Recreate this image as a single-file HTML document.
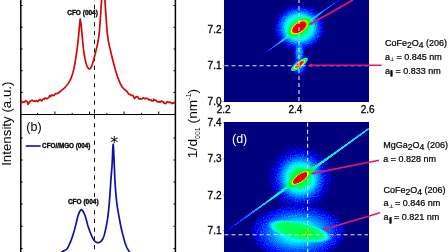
<!DOCTYPE html>
<html><head><meta charset="utf-8"><title>XRD and RSM figure</title>
<style>
html,body{margin:0;padding:0;background:#fff;}
body{width:448px;height:252px;overflow:hidden;}
svg{display:block;}
text{font-family:"Liberation Sans",sans-serif;}
</style></head><body>
<svg width="448" height="252" viewBox="0 0 448 252">
<defs>
<filter id="jet" x="0" y="0" width="1" height="1" color-interpolation-filters="sRGB" filterUnits="objectBoundingBox">
  <feTurbulence type="fractalNoise" baseFrequency="0.85" numOctaves="1" seed="5" result="nz"/>
  <feColorMatrix in="nz" type="matrix" values="1 0 0 0 0  1 0 0 0 0  1 0 0 0 0  0 0 0 0 1" result="ng"/>
  <feGaussianBlur in="SourceGraphic" stdDeviation="0.5" result="sg"/>
  <feComponentTransfer in="sg" result="w">
    <feFuncR type="table" tableValues="0.000 0.133 0.267 0.400 0.533 0.667 0.800 0.933 1.000 1.000 1.000 1.000 1.000 1.000 1.000 1.000 1.000 1.000 0.950 0.850 0.750 0.650 0.550 0.470 0.410 0.350 0.290 0.230 0.180 0.140 0.100 0.060 0.020 0.000 0.000 0.000 0.000 0.000 0.000 0.000 0.000 0.000 0.000 0.000 0.000 0.000 0.000 0.000 0.000 0.000 0.000"/><feFuncG type="table" tableValues="0.000 0.133 0.267 0.400 0.533 0.667 0.800 0.933 1.000 1.000 1.000 1.000 1.000 1.000 1.000 1.000 1.000 1.000 0.950 0.850 0.750 0.650 0.550 0.470 0.410 0.350 0.290 0.230 0.180 0.140 0.100 0.060 0.020 0.000 0.000 0.000 0.000 0.000 0.000 0.000 0.000 0.000 0.000 0.000 0.000 0.000 0.000 0.000 0.000 0.000 0.000"/><feFuncB type="table" tableValues="0.000 0.133 0.267 0.400 0.533 0.667 0.800 0.933 1.000 1.000 1.000 1.000 1.000 1.000 1.000 1.000 1.000 1.000 0.950 0.850 0.750 0.650 0.550 0.470 0.410 0.350 0.290 0.230 0.180 0.140 0.100 0.060 0.020 0.000 0.000 0.000 0.000 0.000 0.000 0.000 0.000 0.000 0.000 0.000 0.000 0.000 0.000 0.000 0.000 0.000 0.000"/>
  </feComponentTransfer>
  <feComponentTransfer in="sg" result="u">
    <feFuncR type="table" tableValues="0.000 0.000 0.000 0.000 0.000 0.000 0.000 0.000 0.010 0.030 0.050 0.070 0.090 0.110 0.130 0.150 0.170 0.190 0.217 0.253 0.288 0.322 0.357 0.390 0.418 0.448 0.477 0.506 0.533 0.559 0.585 0.611 0.637 0.660 0.680 0.700 0.720 0.740 0.760 0.780 0.800 0.820 0.840 0.860 0.880 0.900 0.920 0.940 0.960 0.980 1.000"/><feFuncG type="table" tableValues="0.000 0.000 0.000 0.000 0.000 0.000 0.000 0.000 0.010 0.030 0.050 0.070 0.090 0.110 0.130 0.150 0.170 0.190 0.217 0.253 0.288 0.322 0.357 0.390 0.418 0.448 0.477 0.506 0.533 0.559 0.585 0.611 0.637 0.660 0.680 0.700 0.720 0.740 0.760 0.780 0.800 0.820 0.840 0.860 0.880 0.900 0.920 0.940 0.960 0.980 1.000"/><feFuncB type="table" tableValues="0.000 0.000 0.000 0.000 0.000 0.000 0.000 0.000 0.010 0.030 0.050 0.070 0.090 0.110 0.130 0.150 0.170 0.190 0.217 0.253 0.288 0.322 0.357 0.390 0.418 0.448 0.477 0.506 0.533 0.559 0.585 0.611 0.637 0.660 0.680 0.700 0.720 0.740 0.760 0.780 0.800 0.820 0.840 0.860 0.880 0.900 0.920 0.940 0.960 0.980 1.000"/>
  </feComponentTransfer>
  <feComposite in="w" in2="ng" operator="arithmetic" k1="0.3" k2="0" k3="0" k4="0" result="a"/>
  <feComposite in="u" in2="a" operator="arithmetic" k1="0" k2="1" k3="1" k4="0" result="v"/>
  <feComponentTransfer in="v">
    <feFuncR type="table" tableValues="0.000 0.000 0.000 0.000 0.000 0.000 0.000 0.000 0.000 0.000 0.000 0.000 0.000 0.000 0.000 0.000 0.000 0.000 0.000 0.000 0.000 0.000 0.000 0.000 0.000 0.000 0.000 0.000 0.000 0.000 0.000 0.000 0.000 0.114 0.343 0.571 0.800 1.000 1.000 1.000 1.000 1.000 1.000 1.000 1.000 1.000 0.996 0.984 0.973 0.961 0.950"/>
    <feFuncG type="table" tableValues="0.000 0.000 0.000 0.000 0.000 0.000 0.000 0.000 0.000 0.000 0.000 0.000 0.000 0.000 0.000 0.000 0.000 0.000 0.000 0.000 0.071 0.186 0.300 0.414 0.529 0.643 0.757 0.871 0.986 1.000 1.000 1.000 1.000 1.000 1.000 1.000 1.000 0.986 0.871 0.757 0.643 0.529 0.414 0.300 0.186 0.071 0.000 0.000 0.000 0.000 0.000"/>
    <feFuncB type="table" tableValues="0.500 0.500 0.500 0.500 0.500 0.500 0.500 0.500 0.500 0.500 0.500 0.500 0.500 0.500 0.500 0.500 0.614 0.729 0.843 0.957 1.000 1.000 1.000 1.000 1.000 1.000 1.000 1.000 1.000 0.800 0.571 0.343 0.114 0.000 0.000 0.000 0.000 0.000 0.000 0.000 0.000 0.000 0.000 0.000 0.000 0.000 0.000 0.000 0.000 0.000 0.000"/>
    <feFuncA type="linear" slope="0" intercept="1"/>
  </feComponentTransfer>
</filter>
<radialGradient id="c1h"><stop offset="0.0" stop-color="rgb(173,173,173)"/><stop offset="0.2258" stop-color="rgb(159,159,159)"/><stop offset="0.3226" stop-color="rgb(151,151,151)"/><stop offset="0.4194" stop-color="rgb(145,145,145)"/><stop offset="0.5161" stop-color="rgb(130,130,130)"/><stop offset="0.5806" stop-color="rgb(119,119,119)"/><stop offset="0.6613" stop-color="rgb(107,107,107)"/><stop offset="0.7258" stop-color="rgb(98,98,98)"/><stop offset="0.7903" stop-color="rgb(85,85,85)"/><stop offset="0.8387" stop-color="rgb(76,76,76)"/><stop offset="1.0" stop-color="rgb(0,0,0)"/></radialGradient>
<radialGradient id="c1c"><stop offset="0" stop-color="rgb(255,255,255)"/><stop offset="0.44" stop-color="rgb(255,255,255)"/><stop offset="0.5" stop-color="rgb(233,233,233)"/><stop offset="0.59" stop-color="rgb(188,188,188)"/><stop offset="0.68" stop-color="rgb(169,169,169)"/><stop offset="0.8" stop-color="rgb(160,160,160)"/><stop offset="0.96" stop-color="rgb(148,148,148)"/><stop offset="1" stop-color="rgb(0,0,0)"/></radialGradient>
<radialGradient id="c2n"><stop offset="0" stop-color="rgb(135,135,135)"/><stop offset="0.5" stop-color="rgb(121,121,121)"/><stop offset="0.8" stop-color="rgb(94,94,94)"/><stop offset="0.92" stop-color="rgb(76,76,76)"/><stop offset="1" stop-color="rgb(0,0,0)"/></radialGradient>
<radialGradient id="c2h"><stop offset="0" stop-color="rgb(126,126,126)"/><stop offset="0.5" stop-color="rgb(112,112,112)"/><stop offset="0.75" stop-color="rgb(94,94,94)"/><stop offset="0.9" stop-color="rgb(76,76,76)"/><stop offset="1" stop-color="rgb(0,0,0)"/></radialGradient>
<radialGradient id="c2c"><stop offset="0" stop-color="rgb(241,241,241)"/><stop offset="0.35" stop-color="rgb(230,230,230)"/><stop offset="0.5" stop-color="rgb(198,198,198)"/><stop offset="0.62" stop-color="rgb(169,169,169)"/><stop offset="0.75" stop-color="rgb(148,148,148)"/><stop offset="0.88" stop-color="rgb(116,116,116)"/><stop offset="1" stop-color="rgb(0,0,0)"/></radialGradient>
<radialGradient id="d1h"><stop offset="0.0" stop-color="rgb(175,175,175)"/><stop offset="0.119" stop-color="rgb(166,166,166)"/><stop offset="0.1905" stop-color="rgb(159,159,159)"/><stop offset="0.2619" stop-color="rgb(151,151,151)"/><stop offset="0.3333" stop-color="rgb(141,141,141)"/><stop offset="0.4286" stop-color="rgb(125,125,125)"/><stop offset="0.5238" stop-color="rgb(109,109,109)"/><stop offset="0.619" stop-color="rgb(94,94,94)"/><stop offset="0.7143" stop-color="rgb(84,84,84)"/><stop offset="0.7857" stop-color="rgb(76,76,76)"/><stop offset="1.0" stop-color="rgb(0,0,0)"/></radialGradient>
<radialGradient id="d1c"><stop offset="0" stop-color="rgb(255,255,255)"/><stop offset="0.45" stop-color="rgb(255,255,255)"/><stop offset="0.5" stop-color="rgb(233,233,233)"/><stop offset="0.57" stop-color="rgb(188,188,188)"/><stop offset="0.66" stop-color="rgb(169,169,169)"/><stop offset="0.8" stop-color="rgb(162,162,162)"/><stop offset="0.95" stop-color="rgb(155,155,155)"/><stop offset="1" stop-color="rgb(0,0,0)"/></radialGradient>
<radialGradient id="d2h"><stop offset="0" stop-color="rgb(151,151,151)"/><stop offset="0.3" stop-color="rgb(143,143,143)"/><stop offset="0.6" stop-color="rgb(116,116,116)"/><stop offset="0.75" stop-color="rgb(103,103,103)"/><stop offset="0.86" stop-color="rgb(91,91,91)"/><stop offset="0.92" stop-color="rgb(76,76,76)"/><stop offset="1" stop-color="rgb(0,0,0)"/></radialGradient>
<radialGradient id="d2c"><stop offset="0" stop-color="rgb(160,160,160)"/><stop offset="0.5" stop-color="rgb(159,159,159)"/><stop offset="0.7" stop-color="rgb(156,156,156)"/><stop offset="0.78" stop-color="rgb(151,151,151)"/><stop offset="0.85" stop-color="rgb(143,143,143)"/><stop offset="0.92" stop-color="rgb(130,130,130)"/><stop offset="1" stop-color="rgb(112,112,112)"/></radialGradient>
<radialGradient id="d2p"><stop offset="0" stop-color="rgb(171,171,171)"/><stop offset="0.5" stop-color="rgb(166,166,166)"/><stop offset="1" stop-color="rgb(155,155,155)"/></radialGradient>
<linearGradient id="sc" gradientUnits="userSpaceOnUse" x1="258" y1="58" x2="340" y2="-0.9"><stop offset="0" stop-color="rgb(0,0,0)"/><stop offset="0.06" stop-color="rgb(76,76,76)"/><stop offset="0.15" stop-color="rgb(112,112,112)"/><stop offset="0.3" stop-color="rgb(135,135,135)"/><stop offset="0.45" stop-color="rgb(155,155,155)"/><stop offset="0.55" stop-color="rgb(155,155,155)"/><stop offset="0.65" stop-color="rgb(143,143,143)"/><stop offset="0.8" stop-color="rgb(121,121,121)"/><stop offset="1" stop-color="rgb(100,100,100)"/></linearGradient>
<linearGradient id="sd" gradientUnits="userSpaceOnUse" x1="225.5" y1="231.8" x2="369" y2="128.5"><stop offset="0" stop-color="rgb(91,91,91)"/><stop offset="0.08" stop-color="rgb(105,105,105)"/><stop offset="0.17" stop-color="rgb(123,123,123)"/><stop offset="0.3" stop-color="rgb(141,141,141)"/><stop offset="0.42" stop-color="rgb(155,155,155)"/><stop offset="0.5" stop-color="rgb(166,166,166)"/><stop offset="0.56" stop-color="rgb(166,166,166)"/><stop offset="0.64" stop-color="rgb(159,159,159)"/><stop offset="0.8" stop-color="rgb(146,146,146)"/><stop offset="1" stop-color="rgb(134,134,134)"/></linearGradient>
</defs>
<rect width="448" height="252" fill="#fff"/>

<!-- ===== left panels (a)/(b) ===== -->
<g fill="none" stroke="#000">
  <path d="M20.8,0 V252 M175.4,0 V252" stroke-width="1.5"/>
  <path d="M20.8,114.5 H175.4" stroke-width="1"/>
  <path d="M37.6,114.5 v-1.6 M54.9,114.5 v-3 M72.2,114.5 v-1.6 M89.5,114.5 v-3 M106.8,114.5 v-1.6 M124.1,114.5 v-3 M141.4,114.5 v-1.6 M158.7,114.5 v-3 M20.8,5.5 h1.9 M175.4,5.5 h-1.9 M20.8,27.3 h1.9 M175.4,27.3 h-1.9 M20.8,49 h1.9 M175.4,49 h-1.9 M20.8,70.7 h1.9 M175.4,70.7 h-1.9 M20.8,92.4 h1.9 M175.4,92.4 h-1.9 M20.8,138 h1.9 M175.4,138 h-1.9 M20.8,160 h1.9 M175.4,160 h-1.9 M20.8,182 h1.9 M175.4,182 h-1.9 M20.8,204 h1.9 M175.4,204 h-1.9 M20.8,226.3 h1.9 M175.4,226.3 h-1.9 M20.8,248.5 h1.9 M175.4,248.5 h-1.9" stroke-width="1"/>
  <path d="M94.5,-3.9 V114.5" stroke="#111" stroke-width="1" stroke-dasharray="4.2 4.5"/>
  <path d="M94.5,114.5 V252" stroke="#111" stroke-width="1" stroke-dasharray="4.2 4.5"/>
</g>
<rect x="66" y="9.3" width="33" height="6" fill="#fff"/>
<rect x="66" y="198" width="34" height="8" fill="#fff"/>
<path d="M21.0,103.69 L21.8,101.44 L22.6,102.21 L23.4,102.17 L24.2,101.99 L25.0,101.66 L25.8,100.72 L26.6,101.35 L27.4,102.27 L28.2,104.37 L29.0,102.82 L29.8,101.49 L30.6,101.16 L31.4,100.64 L32.2,100.27 L33.0,100.73 L33.8,101.22 L34.6,101.05 L35.4,101.33 L36.2,100.67 L37.0,100.77 L37.8,101.57 L38.6,100.78 L39.4,99.65 L40.2,99.64 L41.0,100.43 L41.8,100.92 L42.6,99.42 L43.4,99.00 L44.2,99.25 L45.0,98.07 L45.8,98.10 L46.6,98.81 L47.4,98.48 L48.2,97.90 L49.0,97.09 L49.8,95.48 L50.6,96.50 L51.4,95.62 L52.2,94.90 L53.0,95.56 L53.8,95.50 L54.6,94.52 L55.4,93.85 L56.2,93.76 L57.0,93.56 L57.8,93.39 L58.6,92.73 L59.4,92.06 L60.2,91.51 L61.0,90.78 L61.8,90.17 L62.6,89.53 L63.4,88.84 L64.2,88.11 L65.0,87.32 L65.8,86.48 L66.6,85.56 L67.4,84.53 L68.2,83.38 L69.0,82.10 L69.8,80.68 L70.6,79.08 L71.4,77.18 L72.2,74.91 L73.0,72.25 L73.8,69.18 L74.6,65.28 L75.4,60.59 L76.2,55.35 L77.0,49.75 L77.8,43.42 L78.6,36.00 L79.4,26.06 L80.2,19.17 L81.0,24.00 L81.8,31.85 L82.6,40.22 L83.4,48.63 L84.2,54.49 L85.0,58.88 L85.8,62.29 L86.6,64.96 L87.4,67.05 L88.2,68.18 L89.0,68.89 L89.8,68.89 L90.6,68.18 L91.4,67.00 L92.2,64.69 L93.0,62.00 L93.8,59.30 L94.6,56.35 L95.4,53.16 L96.2,49.83 L97.0,46.51 L97.8,42.76 L98.6,38.09 L99.4,31.41 L100.2,21.14 L101.0,9.04 L101.8,-3.29 L102.6,-19.13 L103.4,-24.33 L104.2,-12.63 L105.0,1.42 L105.8,13.48 L106.6,25.21 L107.4,34.37 L108.2,39.97 L109.0,44.19 L109.8,47.70 L110.6,51.03 L111.4,54.49 L112.2,57.79 L113.0,60.95 L113.8,63.99 L114.6,66.96 L115.4,69.92 L116.2,72.81 L117.0,75.41 L117.8,77.58 L118.6,79.50 L119.4,81.40 L120.2,83.28 L121.0,85.00 L121.8,86.41 L122.6,87.46 L123.4,88.32 L124.2,89.07 L125.0,89.78 L125.8,90.47 L126.6,91.20 L127.4,92.07 L128.2,93.39 L129.0,94.14 L129.8,94.36 L130.6,94.82 L131.4,95.49 L132.2,95.39 L133.0,95.65 L133.8,97.20 L134.6,98.56 L135.4,97.47 L136.2,96.75 L137.0,96.41 L137.8,96.77 L138.6,98.37 L139.4,99.03 L140.2,98.70 L141.0,98.81 L141.8,98.85 L142.6,98.51 L143.4,97.64 L144.2,98.26 L145.0,98.83 L145.8,98.46 L146.6,98.47 L147.4,98.51 L148.2,99.17 L149.0,99.97 L149.8,99.48 L150.6,99.70 L151.4,100.55 L152.2,101.03 L153.0,100.93 L153.8,99.19 L154.6,100.22 L155.4,100.20 L156.2,100.61 L157.0,101.45 L157.8,101.91 L158.6,101.82 L159.4,101.62 L160.2,102.13 L161.0,101.22 L161.8,101.20 L162.6,101.72 L163.4,101.73 L164.2,103.25 L165.0,103.47 L165.8,103.61 L166.6,102.26 L167.4,101.68 L168.2,102.25 L169.0,102.59 L169.8,102.08 L170.6,102.48 L171.4,102.93 L172.2,103.58 L173.0,102.81 L173.8,103.19 L174.6,102.37 L175.4,102.05" fill="none" stroke="#d20808" stroke-width="1.7" stroke-linejoin="round"/>
<path d="M60.0,254.00 L60.4,253.54 L60.8,253.10 L61.2,252.68 L61.6,252.29 L62.0,251.92 L62.4,251.60 L62.8,251.32 L63.2,251.08 L63.6,250.87 L64.0,250.68 L64.4,250.50 L64.8,250.32 L65.2,250.12 L65.6,249.90 L66.0,249.65 L66.4,249.36 L66.8,249.00 L67.2,248.53 L67.6,247.94 L68.0,247.24 L68.4,246.46 L68.8,245.62 L69.2,244.75 L69.6,243.86 L70.0,242.98 L70.4,242.06 L70.8,241.09 L71.2,240.06 L71.6,238.99 L72.0,237.87 L72.4,236.71 L72.8,235.52 L73.2,234.29 L73.6,232.98 L74.0,231.59 L74.4,230.14 L74.8,228.65 L75.2,227.14 L75.6,225.62 L76.0,223.99 L76.4,222.28 L76.8,220.56 L77.2,218.89 L77.6,217.34 L78.0,216.00 L78.4,214.79 L78.8,213.63 L79.2,212.58 L79.6,211.68 L80.0,211.00 L80.4,210.44 L80.8,209.95 L81.2,209.64 L81.6,209.65 L82.0,209.96 L82.4,210.45 L82.8,211.00 L83.2,211.59 L83.6,212.30 L84.0,213.11 L84.4,214.01 L84.8,214.98 L85.2,216.00 L85.6,217.17 L86.0,218.54 L86.4,220.04 L86.8,221.60 L87.2,223.16 L87.6,224.65 L88.0,226.00 L88.4,227.24 L88.8,228.43 L89.2,229.58 L89.6,230.68 L90.0,231.74 L90.4,232.75 L90.8,233.75 L91.2,234.76 L91.6,235.74 L92.0,236.68 L92.4,237.56 L92.8,238.36 L93.2,239.06 L93.6,239.63 L94.0,240.15 L94.4,240.62 L94.8,241.05 L95.2,241.43 L95.6,241.75 L96.0,242.00 L96.4,242.22 L96.8,242.43 L97.2,242.59 L97.6,242.69 L98.0,242.69 L98.4,242.63 L98.8,242.52 L99.2,242.37 L99.6,242.19 L100.0,242.00 L100.4,241.77 L100.8,241.46 L101.2,241.08 L101.6,240.63 L102.0,240.13 L102.4,239.54 L102.8,238.78 L103.2,237.86 L103.6,236.83 L104.0,235.70 L104.4,234.39 L104.8,232.84 L105.2,231.14 L105.6,229.35 L106.0,227.51 L106.4,225.57 L106.8,223.48 L107.2,221.17 L107.6,218.60 L108.0,215.63 L108.4,212.20 L108.8,208.34 L109.2,204.11 L109.6,199.28 L110.0,193.51 L110.4,187.36 L110.8,181.39 L111.2,176.15 L111.6,171.33 L112.0,166.07 L112.4,158.62 L112.8,147.83 L113.2,144.27 L113.6,149.67 L114.0,158.61 L114.4,167.76 L114.8,178.06 L115.2,184.83 L115.6,190.48 L116.0,195.31 L116.4,199.45 L116.8,203.00 L117.2,206.05 L117.6,208.69 L118.0,211.05 L118.4,213.26 L118.8,215.44 L119.2,217.68 L119.6,219.87 L120.0,222.01 L120.4,224.08 L120.8,226.08 L121.2,227.99 L121.6,229.80 L122.0,231.50 L122.4,233.10 L122.8,234.63 L123.2,236.13 L123.6,237.62 L124.0,239.12 L124.4,240.58 L124.8,241.96 L125.2,243.21 L125.6,244.34 L126.0,245.40 L126.4,246.39 L126.8,247.30 L127.2,248.12 L127.6,248.86 L128.0,249.53 L128.4,250.15 L128.8,250.72 L129.2,251.24 L129.6,251.72 L130.0,252.17 L130.4,252.60 L130.8,253.00 L131.2,253.37 L131.6,253.71 L132.0,254.00" fill="none" stroke="#0e0eaa" stroke-width="1.7" stroke-linejoin="round"/>
<path d="M25.7,146 H40.7" stroke="#1010a8" stroke-width="1.6"/>
<text x="67.2" y="15.1" font-size="6.5" font-weight="bold" fill="#000" stroke="#000" stroke-width="0.3">CFO (004)</text>
<text x="67.9" y="203.9" font-size="6.5" font-weight="bold" fill="#000" stroke="#000" stroke-width="0.3">CFO (004)</text>
<text x="42.1" y="148.3" font-size="6.3" font-weight="bold" fill="#000" stroke="#000" stroke-width="0.3">CFO//MGO (004)</text>
<text x="26.3" y="131" font-size="12.5" fill="#000">(b)</text>
<text x="114.3" y="147.8" font-size="16" text-anchor="middle" fill="#000" style="font-family:'DejaVu Sans',sans-serif">*</text>
<text transform="translate(11.2,123.7) rotate(-90)" font-size="13.3" text-anchor="middle" fill="#000">Intensity (a.u.)</text>

<!-- ===== right panels (c)/(d) ===== -->

<g filter="url(#jet)">
  <rect x="224" y="-10" width="144.2" height="111.3" fill="rgb(0,0,0)"/>
  <g>
  <ellipse cx="299.3" cy="27.6" rx="31" ry="28" fill="url(#c1h)" style="mix-blend-mode:lighten"/>
  <ellipse cx="299.3" cy="52" rx="6" ry="16" fill="url(#c2n)" style="mix-blend-mode:lighten"/>
  <ellipse cx="299.3" cy="66" rx="8.5" ry="11.5" fill="url(#c2h)" style="mix-blend-mode:lighten"/>
  <path d="M258,58 L340,-0.9" stroke="url(#sc)" stroke-width="2" style="mix-blend-mode:lighten"/>
  <ellipse cx="299.3" cy="27.3" rx="15.2" ry="8" transform="rotate(-35.5 299.3 27.3)" fill="url(#c1c)" style="mix-blend-mode:lighten"/>
  <ellipse cx="299.4" cy="64.4" rx="12" ry="3.9" transform="rotate(-37 299.4 64.4)" fill="url(#c2c)" style="mix-blend-mode:lighten"/>
  </g>
</g>
<g filter="url(#jet)">
  <rect x="224" y="122.9" width="144.2" height="135" fill="rgb(0,0,0)"/>
  <g>
  <ellipse cx="300.2" cy="178" rx="42" ry="42" fill="url(#d1h)" style="mix-blend-mode:lighten"/>
  <ellipse cx="298" cy="232" rx="52" ry="30" fill="url(#d2h)" style="mix-blend-mode:lighten"/>
  <path d="M225.5,231.8 L369,128.5" stroke="url(#sd)" stroke-width="2.3" style="mix-blend-mode:lighten"/>
  <ellipse cx="299.5" cy="231.2" rx="33" ry="10" transform="rotate(12 299.5 231.2)" fill="url(#d2c)" style="mix-blend-mode:lighten"/>
  <ellipse cx="306.5" cy="233" rx="10" ry="5" fill="url(#d2p)" style="mix-blend-mode:lighten"/>
  <ellipse cx="300.2" cy="178" rx="16.5" ry="6.2" transform="rotate(-35.5 300.2 178)" fill="url(#d1c)" style="mix-blend-mode:lighten"/>
  </g>
</g>
<g fill="none" stroke="#e8e8f4" stroke-width="1.1">
  <path d="M299,-0.9 V101.4" stroke-dasharray="4 3"/>
  <path d="M224.5,65.7 H368" stroke-dasharray="4 3"/>
  <path d="M307.6,122.8 V252" stroke-dasharray="4 3"/>
  <path d="M224.5,234.8 H368" stroke-dasharray="4 3"/>
</g>
<g stroke="#e9156f" stroke-width="1.6" fill="#e9156f">
  <path d="M353,0 L311,23.7"/><path d="M308.8,24.9 L313.0,24.6 L311.3,21.6 Z" stroke="none"/>
  <path d="M381.6,65.3 H310.5"/><path d="M307.9,65.3 L312.2,63.6 L312.2,67.0 Z" stroke="none"/>
  <path d="M379,160.2 L312.8,173.4"/><path d="M310.3,173.9 L314.8,174.8 L314.1,171.4 Z" stroke="none"/>
  <path d="M380,212.7 L324.8,229.2"/><path d="M322.4,229.9 L326.9,230.3 L325.9,227.0 Z" stroke="none"/>
</g>
<text x="232" y="143.2" font-size="12.5" fill="#fff">(d)</text>


<!-- axis labels right -->
<text transform="translate(196.9,123.5) rotate(-90)" font-size="13.6" letter-spacing="0.1" text-anchor="middle" fill="#000">1/d<tspan font-size="6.8" dy="3">001</tspan><tspan dy="-3"> (nm</tspan><tspan font-size="6.8" dy="-6">-1</tspan><tspan dy="6">)</tspan></text>
<g font-size="10" fill="#000" stroke="#000" stroke-width="0.3" text-anchor="end">
  <text x="221.5" y="32.8">7.2</text>
  <text x="221.5" y="68.9">7.1</text>
  <text x="221.5" y="104.9">7.0</text>
  <text x="221.5" y="126">7.4</text>
  <text x="221.5" y="162.4">7.3</text>
  <text x="221.5" y="198.6">7.2</text>
  <text x="221.5" y="234.3">7.1</text>
</g>
<g font-size="10" fill="#000" stroke="#000" stroke-width="0.3" text-anchor="middle">
  <text x="223.6" y="113.4">2.2</text>
  <text x="295.4" y="113.2">2.4</text>
  <text x="367.6" y="113.2">2.6</text>
</g>
<g stroke="#777" stroke-width="0.7">
  <path d="M222.4,29.8 h1.8 M222.4,65.8 h1.8 M222.4,101.4 h1.8 M222.4,122.8 h1.8 M222.4,158.9 h1.8 M222.4,195 h1.8 M222.4,230.7 h1.8"/>
</g>
<g font-size="9" fill="#000" stroke="#000" stroke-width="0.22">
  <text x="384.9" y="45.9">CoFe<tspan font-size="8.6" dy="2.2">2</tspan><tspan dy="-2.2">O</tspan><tspan font-size="8.6" dy="2.2">4</tspan><tspan dy="-2.2"> (206)</tspan></text>
  <text x="384.9" y="59.8">a<tspan font-size="5" dy="1.6">⊥</tspan><tspan dy="-1.6"> = 0.845 nm</tspan></text>
  <text x="384.9" y="73.7">a<tspan font-size="5.5" dy="1.5" font-weight="bold">∥</tspan><tspan dy="-1.5"> = 0.833 nm</tspan></text>
  <text x="383.3" y="147.5">MgGa<tspan font-size="8.6" dy="2.2">2</tspan><tspan dy="-2.2">O</tspan><tspan font-size="8.6" dy="2.2">4</tspan><tspan dy="-2.2"> (206)</tspan></text>
  <text x="383.3" y="161.7">a = 0.828 nm</text>
  <text x="383.5" y="192.5">CoFe<tspan font-size="8.6" dy="2.2">2</tspan><tspan dy="-2.2">O</tspan><tspan font-size="8.6" dy="2.2">4</tspan><tspan dy="-2.2"> (206)</tspan></text>
  <text x="383.5" y="206.4">a<tspan font-size="5" dy="1.6">⊥</tspan><tspan dy="-1.6"> = 0.846 nm</tspan></text>
  <text x="383.5" y="220.2">a<tspan font-size="5.5" dy="1.5" font-weight="bold">∥</tspan><tspan dy="-1.5"> = 0.821 nm</tspan></text>
</g>
</svg>
</body></html>
